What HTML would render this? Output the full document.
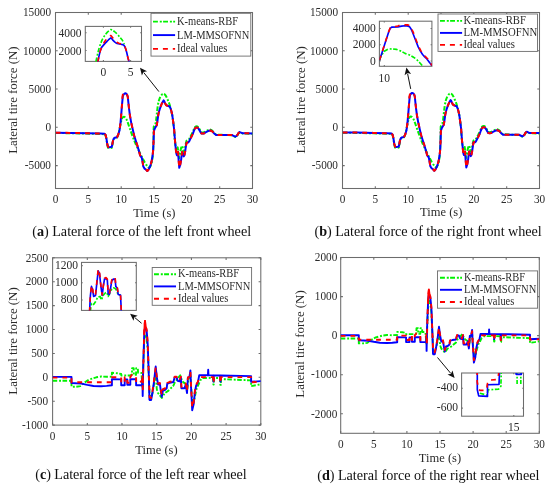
<!DOCTYPE html>
<html lang="en"><head><meta charset="utf-8"><title>Lateral tire force</title>
<style>html,body{margin:0;padding:0;background:#fff}svg{display:block}</style></head>
<body>
<svg width="550" height="488" viewBox="0 0 550 488" font-family="'Liberation Serif','Times New Roman',serif" fill="#2b2b2b">
<rect width="550" height="488" fill="#fff"/>
<rect x="55.5" y="12.5" width="197.00" height="176.00" fill="none" stroke="#6c6c6c" stroke-width="1.05"/>
<path d="M55.5 188.5v-2.2M55.5 12.5v2.2M88.3 188.5v-2.2M88.3 12.5v2.2M121.2 188.5v-2.2M121.2 12.5v2.2M154.0 188.5v-2.2M154.0 12.5v2.2M186.8 188.5v-2.2M186.8 12.5v2.2M219.7 188.5v-2.2M219.7 12.5v2.2M252.5 188.5v-2.2M252.5 12.5v2.2M55.5 12.5h2.2M252.5 12.5h-2.2M55.5 50.8h2.2M252.5 50.8h-2.2M55.5 89.0h2.2M252.5 89.0h-2.2M55.5 127.3h2.2M252.5 127.3h-2.2M55.5 165.6h2.2M252.5 165.6h-2.2" stroke="#6c6c6c" stroke-width="1.05" fill="none"/>
<text transform="translate(55.5,203.4) scale(0.9,1)" font-size="12.5" text-anchor="middle">0</text>
<text transform="translate(88.3,203.4) scale(0.9,1)" font-size="12.5" text-anchor="middle">5</text>
<text transform="translate(121.2,203.4) scale(0.9,1)" font-size="12.5" text-anchor="middle">10</text>
<text transform="translate(154.0,203.4) scale(0.9,1)" font-size="12.5" text-anchor="middle">15</text>
<text transform="translate(186.8,203.4) scale(0.9,1)" font-size="12.5" text-anchor="middle">20</text>
<text transform="translate(219.7,203.4) scale(0.9,1)" font-size="12.5" text-anchor="middle">25</text>
<text transform="translate(252.5,203.4) scale(0.9,1)" font-size="12.5" text-anchor="middle">30</text>
<text transform="translate(51.0,16.3) scale(0.9,1)" font-size="12.5" text-anchor="end">15000</text>
<text transform="translate(51.0,54.5) scale(0.9,1)" font-size="12.5" text-anchor="end">10000</text>
<text transform="translate(51.0,92.8) scale(0.9,1)" font-size="12.5" text-anchor="end">5000</text>
<text transform="translate(51.0,131.1) scale(0.9,1)" font-size="12.5" text-anchor="end">0</text>
<text transform="translate(51.0,169.3) scale(0.9,1)" font-size="12.5" text-anchor="end">-5000</text>
<clipPath id="clipa"><rect x="55.5" y="12.5" width="197.0" height="176.0"/></clipPath>
<polyline points="55.7,133.0 70.0,133.2 86.5,133.6 100.0,134.0 104.5,134.2 105.6,135.4 106.4,138.8 107.2,144.2 108.0,147.8 109.5,148.4 111.8,147.8 112.4,144.8 113.0,141.2 113.8,139.0 114.7,138.2 117.0,137.6 118.2,134.8 119.2,130.5 120.5,124.3 121.5,119.8 122.6,117.4 123.7,116.8 125.0,117.3 126.5,119.4 128.0,123.1 129.3,127.0 131.5,133.3 133.8,139.5 136.0,144.8 138.3,149.6 140.5,154.2 142.8,158.6 144.5,161.8 146.2,164.6 147.5,166.6 148.7,167.6 149.8,167.2 150.9,165.4 152.0,161.3 152.9,154.8 153.4,144.8 153.7,127.0 154.7,124.8 155.8,122.8 156.8,113.8 157.8,105.5 158.5,101.8 159.3,99.3 160.3,96.8 161.4,95.2 162.4,94.1 163.4,93.7 164.5,94.2 165.5,95.2 166.5,97.0 167.5,99.3 168.6,101.8 169.6,104.5 170.4,107.3 171.4,111.3 172.2,114.8 173.2,121.8 174.2,130.0 174.6,137.8 175.5,145.8 176.3,149.8 177.0,148.8 177.7,147.3 178.4,152.8 179.1,158.3 179.9,155.3 180.7,149.8 181.5,146.3 182.2,145.8 183.0,148.8 183.7,151.8 184.4,150.8 185.1,147.8 185.8,143.8 186.5,140.8 187.4,140.2 188.3,140.2 189.2,139.0 190.0,137.4 191.4,134.8 192.8,131.8 193.9,129.2 195.0,127.0 196.1,126.3 197.3,126.4 198.2,127.0 199.0,128.2 200.2,130.4 201.4,132.2 202.7,132.6 204.0,132.3 205.5,131.4 207.0,130.6 208.7,129.8 210.4,129.6 211.7,130.2 213.0,131.4 214.5,133.2 216.0,134.6 221.6,134.8 226.0,135.0 231.8,135.2 233.5,136.0 235.2,137.0 236.3,136.4 237.4,135.2 238.5,133.4 239.7,132.3 241.0,132.8 242.4,133.4 246.0,133.6 252.5,133.8" fill="none" stroke="#00f200" stroke-width="2.0" stroke-linejoin="round" stroke-dasharray="4.6 1.9 1.9 1.5" clip-path="url(#clipa)"/>
<polyline points="55.7,132.8 70.0,132.9 86.5,133.2 100.0,133.6 104.5,133.8 105.6,135.0 106.4,138.4 107.2,143.8 108.0,146.8 109.5,147.4 111.8,146.8 112.4,143.8 113.0,140.6 113.8,138.6 114.7,137.8 117.0,137.2 118.2,134.8 119.5,130.5 120.5,122.8 121.3,113.6 122.0,104.8 122.7,97.3 123.1,95.4 123.8,94.2 125.1,93.2 126.6,94.0 127.3,95.2 127.8,96.8 128.4,102.8 129.1,109.1 130.0,115.8 131.2,122.6 132.8,129.8 134.3,136.1 135.8,140.8 137.2,145.1 138.6,149.8 140.1,155.3 141.0,156.8 141.7,157.5 142.4,160.8 143.3,166.5 144.6,168.6 146.2,169.8 147.3,171.0 148.4,169.8 149.6,167.6 150.8,164.3 151.8,160.3 152.6,155.8 153.2,149.8 153.6,140.8 153.9,131.1 154.8,128.4 156.8,125.0 157.6,119.8 158.3,114.7 159.1,111.3 159.9,108.6 160.9,105.8 161.9,103.4 162.8,101.8 163.6,100.4 164.3,101.4 165.0,103.0 166.0,105.0 167.5,105.8 169.6,106.5 170.5,108.3 171.4,111.3 172.2,114.7 173.2,121.8 174.2,130.0 174.6,135.8 175.2,142.8 176.1,151.8 176.6,154.4 177.0,155.3 177.5,153.8 178.0,151.8 178.6,159.8 179.3,167.8 180.1,165.3 181.0,160.8 181.6,155.8 182.2,151.8 183.0,154.4 183.8,156.4 184.5,154.8 185.1,151.8 185.8,146.8 186.5,142.8 187.4,142.4 188.3,142.5 189.2,141.2 190.0,139.5 191.4,136.8 192.8,133.8 193.9,130.8 195.0,128.3 196.1,127.6 197.3,127.6 198.2,128.2 199.0,129.4 200.2,131.6 201.4,133.4 202.7,133.6 204.0,133.4 205.5,132.4 207.0,131.6 208.7,130.8 210.4,130.5 211.7,131.0 213.0,132.1 214.5,133.8 216.0,135.0 221.6,135.0 226.0,135.0 231.8,135.0 233.5,135.8 235.2,136.6 236.3,136.1 237.4,135.0 238.5,133.1 239.7,132.1 241.0,132.6 242.4,133.2 246.0,133.3 252.5,133.4" fill="none" stroke="#0000ff" stroke-width="2.0" stroke-linejoin="round" clip-path="url(#clipa)"/>
<polyline points="55.7,132.8 70.0,132.9 86.5,133.2 100.0,133.6 104.5,133.8 105.6,135.0 106.4,138.4 107.2,143.8 108.0,146.8 109.5,147.4 111.8,146.8 112.4,143.8 113.0,140.6 113.8,138.6 114.7,137.8 117.0,137.2 118.2,134.8 119.5,130.5 120.5,122.8 121.3,113.6 122.0,104.8 122.5,96.7 122.8,94.8 123.5,93.6 124.8,92.6 126.3,93.4 127.0,94.6 127.8,96.8 128.4,102.8 129.1,109.1 130.0,115.8 131.2,122.6 132.8,129.8 134.3,136.1 135.8,140.8 137.2,145.1 138.6,149.8 140.1,155.3 141.0,156.8 141.7,157.5 142.4,160.8 143.3,166.5 144.6,168.6 146.2,169.8 147.3,171.0 148.4,169.8 149.6,167.6 150.8,164.3 151.8,160.3 152.6,155.8 153.2,149.8 153.6,140.8 153.9,131.1 154.8,128.4 156.8,125.0 157.6,119.8 158.3,114.7 159.1,111.3 159.9,108.6 160.9,105.8 161.9,103.4 162.8,101.8 163.6,100.4 164.3,101.4 165.0,103.0 166.0,105.0 167.5,105.8 169.6,106.5 170.5,108.3 171.4,111.3 172.2,114.7 173.2,121.8 174.2,130.0 174.6,135.8 175.2,142.8 176.1,151.8 176.6,154.4 177.0,155.3 177.5,153.8 178.0,151.8 178.6,159.8 179.3,167.8 180.1,165.3 181.0,160.8 181.6,155.8 182.2,151.8 183.0,154.4 183.8,156.4 184.5,154.8 185.1,151.8 185.8,146.8 186.5,142.8 187.4,142.4 188.3,142.5 189.2,141.2 190.0,139.5 191.4,136.8 192.8,133.8 193.9,130.8 195.0,128.3 196.1,127.6 197.3,127.6 198.2,128.2 199.0,129.4 200.2,131.6 201.4,133.4 202.7,133.6 204.0,133.4 205.5,132.4 207.0,131.6 208.7,130.8 210.4,130.5 211.7,131.0 213.0,132.1 214.5,133.8 216.0,135.0 221.6,135.0 226.0,135.0 231.8,135.0 233.5,135.8 235.2,136.6 236.3,136.1 237.4,135.0 238.5,133.1 239.7,132.1 241.0,132.6 242.4,133.2 246.0,133.3 252.5,133.4" fill="none" stroke="#ff0000" stroke-width="2.0" stroke-linejoin="round" stroke-dasharray="4.8 5" clip-path="url(#clipa)"/>
<rect x="151.0" y="13.3" width="99.8" height="42.8" fill="#fff" stroke="#6c6c6c" stroke-width="0.9"/>
<polyline points="153.0,21.6 175.1,21.6" fill="none" stroke="#00f200" stroke-width="1.9" stroke-linejoin="round" stroke-dasharray="4.9 1.9 2 1.3"/>
<text transform="translate(177.0,25.1) scale(0.905,1)" font-size="11.6">K-means-RBF</text>
<polyline points="153.0,35.1 175.1,35.1" fill="none" stroke="#0000ff" stroke-width="1.9" stroke-linejoin="round"/>
<text transform="translate(177.0,38.6) scale(0.905,1)" font-size="11.6">LM-MMSOFNN</text>
<polyline points="153.0,48.9 175.1,48.9" fill="none" stroke="#ff0000" stroke-width="1.9" stroke-linejoin="round" stroke-dasharray="5 4.9"/>
<text transform="translate(177.0,52.4) scale(0.905,1)" font-size="11.6">Ideal values</text>
<text transform="translate(17.3,100.2) rotate(-90)" font-size="12.85" text-anchor="middle">Lateral tire force (N)</text>
<text x="154.3" y="217.2" font-size="12.5" text-anchor="middle">Time (s)</text>
<text x="32.3" y="235.8" font-size="14.2" fill="#111" textLength="218.8" lengthAdjust="spacing">(<tspan font-weight="bold">a</tspan>) Lateral force of the left front wheel</text>
<rect x="85.3" y="26.4" width="56.2" height="35.0" fill="#fff"/>
<rect x="85.3" y="26.4" width="56.20" height="35.00" fill="none" stroke="#6c6c6c" stroke-width="1.05"/>
<path d="M103.4 61.4v-1.3M103.4 26.4v1.3M130.6 61.4v-1.3M130.6 26.4v1.3M85.3 32.7h1.3M141.5 32.7h-1.3M85.3 50.5h1.3M141.5 50.5h-1.3" stroke="#6c6c6c" stroke-width="1.05" fill="none"/>
<text transform="translate(103.4,75.6) scale(0.96,1)" font-size="12.0" text-anchor="middle">0</text>
<text transform="translate(130.6,75.6) scale(0.96,1)" font-size="12.0" text-anchor="middle">5</text>
<text transform="translate(81.6,36.7) scale(0.96,1)" font-size="12.0" text-anchor="end">4000</text>
<text transform="translate(81.6,54.5) scale(0.96,1)" font-size="12.0" text-anchor="end">2000</text>
<clipPath id="clipia"><rect x="85.3" y="26.4" width="56.2" height="35.0"/></clipPath>
<polyline points="95.9,62.0 96.8,57.5 97.8,53.1 99.1,48.3 100.4,44.2 101.9,40.4 103.5,37.2 105.5,34.4 107.4,32.1 109.3,30.6 110.9,29.5 112.6,30.2 114.4,31.5 116.3,33.2 118.2,35.3 120.1,37.4 122.0,39.7 123.3,41.9 124.2,44.2" fill="none" stroke="#00f200" stroke-width="1.65" stroke-linejoin="round" stroke-dasharray="4.6 1.9 1.9 1.5" clip-path="url(#clipia)"/>
<polyline points="97.8,62.0 98.8,56.9 99.7,53.1 100.6,49.9 101.6,47.4 103.5,45.1 105.5,42.9 107.1,41.3 108.6,39.7 109.9,38.6 110.9,37.8 111.9,38.8 113.1,40.4 114.6,41.9 116.3,43.2 118.2,43.8 120.7,44.2 122.6,44.6 123.9,45.2 124.9,46.7 125.8,49.3 126.8,52.8 127.7,56.9 128.5,59.7 129.1,62.0" fill="none" stroke="#0000ff" stroke-width="1.65" stroke-linejoin="round" clip-path="url(#clipia)"/>
<polyline points="97.8,62.0 99.1,55.6 100.4,50.5 102.3,45.8 104.2,42.3 105.8,40.1 107.4,38.5 109.3,36.7 110.9,35.5 112.3,37.2 113.7,39.1 115.4,41.0 116.9,42.3 118.8,43.3 120.7,43.9 122.6,44.3 123.9,44.8 125.1,47.0 126.1,49.9 127.1,54.1 128.1,58.2 128.6,60.1 129.1,62.0" fill="none" stroke="#ff0000" stroke-width="1.65" stroke-linejoin="round" stroke-dasharray="4.8 5" clip-path="url(#clipia)"/>
<line x1="158.9" y1="91.6" x2="143.8" y2="72.6" stroke="#111" stroke-width="1.0"/>
<polygon points="140.0,67.7 147.1,71.3 143.5,72.1 141.9,75.4" fill="#111"/>
<rect x="342.5" y="12.5" width="197.00" height="176.00" fill="none" stroke="#6c6c6c" stroke-width="1.05"/>
<path d="M342.5 188.5v-2.2M342.5 12.5v2.2M375.3 188.5v-2.2M375.3 12.5v2.2M408.2 188.5v-2.2M408.2 12.5v2.2M441.0 188.5v-2.2M441.0 12.5v2.2M473.8 188.5v-2.2M473.8 12.5v2.2M506.7 188.5v-2.2M506.7 12.5v2.2M539.5 188.5v-2.2M539.5 12.5v2.2M342.5 12.5h2.2M539.5 12.5h-2.2M342.5 50.8h2.2M539.5 50.8h-2.2M342.5 89.0h2.2M539.5 89.0h-2.2M342.5 127.3h2.2M539.5 127.3h-2.2M342.5 165.6h2.2M539.5 165.6h-2.2" stroke="#6c6c6c" stroke-width="1.05" fill="none"/>
<text transform="translate(342.5,203.4) scale(0.9,1)" font-size="12.5" text-anchor="middle">0</text>
<text transform="translate(375.3,203.4) scale(0.9,1)" font-size="12.5" text-anchor="middle">5</text>
<text transform="translate(408.2,203.4) scale(0.9,1)" font-size="12.5" text-anchor="middle">10</text>
<text transform="translate(441.0,203.4) scale(0.9,1)" font-size="12.5" text-anchor="middle">15</text>
<text transform="translate(473.8,203.4) scale(0.9,1)" font-size="12.5" text-anchor="middle">20</text>
<text transform="translate(506.7,203.4) scale(0.9,1)" font-size="12.5" text-anchor="middle">25</text>
<text transform="translate(539.5,203.4) scale(0.9,1)" font-size="12.5" text-anchor="middle">30</text>
<text transform="translate(338.0,16.3) scale(0.9,1)" font-size="12.5" text-anchor="end">15000</text>
<text transform="translate(338.0,54.5) scale(0.9,1)" font-size="12.5" text-anchor="end">10000</text>
<text transform="translate(338.0,92.8) scale(0.9,1)" font-size="12.5" text-anchor="end">5000</text>
<text transform="translate(338.0,131.1) scale(0.9,1)" font-size="12.5" text-anchor="end">0</text>
<text transform="translate(338.0,169.3) scale(0.9,1)" font-size="12.5" text-anchor="end">-5000</text>
<clipPath id="clipb"><rect x="342.5" y="12.5" width="197.0" height="176.0"/></clipPath>
<polyline points="342.7,132.7 357.0,132.9 373.5,133.3 387.0,133.7 391.5,133.9 392.6,135.1 393.4,138.5 394.2,143.9 395.0,147.5 396.5,148.1 398.8,147.5 399.4,144.5 400.0,140.9 400.8,138.7 401.7,137.9 404.0,137.3 405.2,134.5 406.2,130.2 407.5,124.0 408.5,119.5 409.6,117.1 410.7,116.5 412.0,117.0 413.5,119.1 415.0,122.8 416.3,126.7 418.5,133.0 420.8,139.2 423.0,144.5 425.3,149.3 427.5,153.9 429.8,158.3 431.5,161.5 433.2,164.3 434.5,166.3 435.7,167.3 436.8,166.9 437.9,165.1 439.0,161.0 439.9,154.5 440.4,144.5 440.7,126.7 441.7,124.5 442.8,122.5 443.8,113.5 444.8,105.2 445.5,101.5 446.3,99.0 447.3,96.5 448.4,94.9 449.4,93.8 450.4,93.4 451.5,93.9 452.5,94.9 453.5,96.7 454.5,99.0 455.6,101.5 456.6,104.2 457.4,107.0 458.4,111.0 459.2,114.5 460.2,121.5 461.2,129.7 461.6,137.5 462.5,145.5 463.3,149.5 464.0,148.5 464.7,147.0 465.4,152.5 466.1,158.0 466.9,155.0 467.7,149.5 468.5,146.0 469.2,145.5 470.0,148.5 470.7,151.5 471.4,150.5 472.1,147.5 472.8,143.5 473.5,140.5 474.4,139.9 475.3,139.9 476.2,138.7 477.0,137.1 478.4,134.5 479.8,131.5 480.9,128.9 482.0,126.7 483.1,126.0 484.3,126.1 485.2,126.7 486.0,127.9 487.2,130.1 488.4,131.9 489.7,132.3 491.0,132.0 492.5,131.1 494.0,130.3 495.7,129.5 497.4,129.3 498.7,129.9 500.0,131.1 501.5,132.9 503.0,134.3 508.6,134.5 513.0,134.7 518.8,134.9 520.5,135.7 522.2,136.7 523.3,136.1 524.4,134.9 525.5,133.1 526.7,132.0 528.0,132.5 529.4,133.1 533.0,133.3 539.5,133.5" fill="none" stroke="#00f200" stroke-width="2.0" stroke-linejoin="round" stroke-dasharray="4.6 1.9 1.9 1.5" clip-path="url(#clipb)"/>
<polyline points="342.7,132.5 357.0,132.6 373.5,132.9 387.0,133.3 391.5,133.5 392.6,134.7 393.4,138.1 394.2,143.5 395.0,146.5 396.5,147.1 398.8,146.5 399.4,143.5 400.0,140.3 400.8,138.3 401.7,137.5 404.0,136.9 405.2,134.5 406.5,130.2 407.5,122.5 408.3,113.3 409.0,104.5 409.7,97.0 410.1,95.1 410.8,93.9 412.1,92.9 413.6,93.7 414.3,94.9 414.8,96.5 415.4,102.5 416.1,108.8 417.0,115.5 418.2,122.3 419.8,129.5 421.3,135.8 422.8,140.5 424.2,144.8 425.6,149.5 427.1,155.0 428.0,156.5 428.7,157.2 429.4,160.5 430.3,166.2 431.6,168.3 433.2,169.5 434.3,170.7 435.4,169.5 436.6,167.3 437.8,164.0 438.8,160.0 439.6,155.5 440.2,149.5 440.6,140.5 440.9,130.8 441.8,128.1 443.8,124.7 444.6,119.5 445.3,114.4 446.1,111.0 446.9,108.3 447.9,105.5 448.9,103.1 449.8,101.5 450.6,100.1 451.3,101.1 452.0,102.7 453.0,104.7 454.5,105.5 456.6,106.2 457.5,108.0 458.4,111.0 459.2,114.4 460.2,121.5 461.2,129.7 461.6,135.5 462.2,142.5 463.1,151.5 463.6,154.1 464.0,155.0 464.5,153.5 465.0,151.5 465.6,159.5 466.3,167.5 467.1,165.0 468.0,160.5 468.6,155.5 469.2,151.5 470.0,154.1 470.8,156.1 471.5,154.5 472.1,151.5 472.8,146.5 473.5,142.5 474.4,142.1 475.3,142.2 476.2,140.9 477.0,139.2 478.4,136.5 479.8,133.5 480.9,130.5 482.0,128.0 483.1,127.3 484.3,127.3 485.2,127.9 486.0,129.1 487.2,131.3 488.4,133.1 489.7,133.3 491.0,133.1 492.5,132.1 494.0,131.3 495.7,130.5 497.4,130.2 498.7,130.7 500.0,131.8 501.5,133.5 503.0,134.7 508.6,134.7 513.0,134.7 518.8,134.7 520.5,135.5 522.2,136.3 523.3,135.8 524.4,134.7 525.5,132.8 526.7,131.8 528.0,132.3 529.4,132.9 533.0,133.0 539.5,133.1" fill="none" stroke="#0000ff" stroke-width="2.0" stroke-linejoin="round" clip-path="url(#clipb)"/>
<polyline points="342.7,132.5 357.0,132.6 373.5,132.9 387.0,133.3 391.5,133.5 392.6,134.7 393.4,138.1 394.2,143.5 395.0,146.5 396.5,147.1 398.8,146.5 399.4,143.5 400.0,140.3 400.8,138.3 401.7,137.5 404.0,136.9 405.2,134.5 406.5,130.2 407.5,122.5 408.3,113.3 409.0,104.5 409.4,96.4 409.9,94.5 410.6,93.3 411.9,92.3 413.4,93.1 414.1,94.3 414.8,96.5 415.4,102.5 416.1,108.8 417.0,115.5 418.2,122.3 419.8,129.5 421.3,135.8 422.8,140.5 424.2,144.8 425.6,149.5 427.1,155.0 428.0,156.5 428.7,157.2 429.4,160.5 430.3,166.2 431.6,168.3 433.2,169.5 434.3,170.7 435.4,169.5 436.6,167.3 437.8,164.0 438.8,160.0 439.6,155.5 440.2,149.5 440.6,140.5 440.9,130.8 441.8,128.1 443.8,124.7 444.6,119.5 445.3,114.4 446.1,111.0 446.9,108.3 447.9,105.5 448.9,103.1 449.8,101.5 450.6,100.1 451.3,101.1 452.0,102.7 453.0,104.7 454.5,105.5 456.6,106.2 457.5,108.0 458.4,111.0 459.2,114.4 460.2,121.5 461.2,129.7 461.6,135.5 462.2,142.5 463.1,151.5 463.6,154.1 464.0,155.0 464.5,153.5 465.0,151.5 465.6,159.5 466.3,167.5 467.1,165.0 468.0,160.5 468.6,155.5 469.2,151.5 470.0,154.1 470.8,156.1 471.5,154.5 472.1,151.5 472.8,146.5 473.5,142.5 474.4,142.1 475.3,142.2 476.2,140.9 477.0,139.2 478.4,136.5 479.8,133.5 480.9,130.5 482.0,128.0 483.1,127.3 484.3,127.3 485.2,127.9 486.0,129.1 487.2,131.3 488.4,133.1 489.7,133.3 491.0,133.1 492.5,132.1 494.0,131.3 495.7,130.5 497.4,130.2 498.7,130.7 500.0,131.8 501.5,133.5 503.0,134.7 508.6,134.7 513.0,134.7 518.8,134.7 520.5,135.5 522.2,136.3 523.3,135.8 524.4,134.7 525.5,132.8 526.7,131.8 528.0,132.3 529.4,132.9 533.0,133.0 539.5,133.1" fill="none" stroke="#ff0000" stroke-width="2.0" stroke-linejoin="round" stroke-dasharray="4.8 5" clip-path="url(#clipb)"/>
<rect x="438.0" y="14.0" width="99.5" height="37.4" fill="#fff" stroke="#6c6c6c" stroke-width="0.9"/>
<polyline points="440.0,20.9 462.1,20.9" fill="none" stroke="#00f200" stroke-width="1.9" stroke-linejoin="round" stroke-dasharray="4.9 1.9 2 1.3"/>
<text transform="translate(463.4,24.4) scale(0.925,1)" font-size="11.6">K-means-RBF</text>
<polyline points="440.0,32.9 462.1,32.9" fill="none" stroke="#0000ff" stroke-width="1.9" stroke-linejoin="round"/>
<text transform="translate(463.4,36.4) scale(0.925,1)" font-size="11.6">LM-MMSOFNN</text>
<polyline points="440.0,44.9 462.1,44.9" fill="none" stroke="#ff0000" stroke-width="1.9" stroke-linejoin="round" stroke-dasharray="5 4.9"/>
<text transform="translate(463.4,48.4) scale(0.925,1)" font-size="11.6">Ideal values</text>
<text transform="translate(304.6,99.8) rotate(-90)" font-size="12.85" text-anchor="middle">Lateral tire force (N)</text>
<text x="441.2" y="215.5" font-size="12.5" text-anchor="middle">Time (s)</text>
<text x="314.5" y="235.8" font-size="14.2" fill="#111" textLength="227.3" lengthAdjust="spacing">(<tspan font-weight="bold">b</tspan>) Lateral force of the right front wheel</text>
<rect x="379.4" y="21.2" width="52.5" height="45.099999999999994" fill="#fff"/>
<rect x="379.4" y="21.2" width="52.50" height="45.10" fill="none" stroke="#6c6c6c" stroke-width="1.05"/>
<path d="M384.3 66.3v-1.3M384.3 21.2v1.3M379.4 28.4h1.3M431.9 28.4h-1.3M379.4 44.7h1.3M431.9 44.7h-1.3M379.4 61.0h1.3M431.9 61.0h-1.3" stroke="#6c6c6c" stroke-width="1.05" fill="none"/>
<text transform="translate(384.3,81.5) scale(0.96,1)" font-size="12.0" text-anchor="middle">10</text>
<text transform="translate(375.7,32.0) scale(0.96,1)" font-size="12.0" text-anchor="end">4000</text>
<text transform="translate(375.7,48.3) scale(0.96,1)" font-size="12.0" text-anchor="end">2000</text>
<text transform="translate(375.7,64.6) scale(0.96,1)" font-size="12.0" text-anchor="end">0</text>
<clipPath id="clipib"><rect x="379.4" y="21.2" width="52.5" height="45.099999999999994"/></clipPath>
<polyline points="379.4,60.4 381.2,55.6 384.3,51.3 388.0,49.2 391.7,48.8 396.6,49.4 401.6,51.3 405.0,53.4 409.5,55.0 412.7,56.7 416.0,58.9 419.3,62.2 422.6,65.9 423.6,67.6" fill="none" stroke="#00f200" stroke-width="1.65" stroke-linejoin="round" stroke-dasharray="4.6 1.9 1.9 1.5" clip-path="url(#clipib)"/>
<polyline points="379.4,60.4 381.9,53.0 385.6,41.5 388.6,32.2 390.2,28.3 391.7,27.1 397.9,26.9 401.6,26.1 405.0,25.8 407.3,25.9 409.5,26.6 411.2,29.2 412.7,32.7 415.4,39.7 418.2,46.9 420.4,51.1 422.6,54.5 424.7,56.9 426.9,58.9 429.5,62.4 431.9,65.9" fill="none" stroke="#0000ff" stroke-width="1.65" stroke-linejoin="round" clip-path="url(#clipib)"/>
<polyline points="379.4,60.2 381.9,52.8 385.6,41.2 388.6,31.9 390.2,27.9 391.7,26.7 395.3,26.5 397.9,26.0 399.6,25.3 401.6,25.4 405.0,24.8 407.3,24.8 409.5,25.5 411.6,28.8 413.4,32.7 416.0,39.7 418.6,46.5 420.8,50.6 423.0,53.9 425.2,56.3 427.4,58.5 430.0,62.0 431.9,65.5" fill="none" stroke="#ff0000" stroke-width="1.65" stroke-linejoin="round" stroke-dasharray="4.8 5" clip-path="url(#clipib)"/>
<line x1="410.7" y1="88.9" x2="407.6" y2="73.7" stroke="#111" stroke-width="1.0"/>
<polygon points="406.4,67.6 411.1,74.0 407.5,73.1 404.6,75.3" fill="#111"/>
<rect x="52.6" y="257.8" width="208.20" height="167.30" fill="none" stroke="#6c6c6c" stroke-width="1.05"/>
<path d="M52.6 425.1v-2.2M52.6 257.8v2.2M87.3 425.1v-2.2M87.3 257.8v2.2M122.0 425.1v-2.2M122.0 257.8v2.2M156.7 425.1v-2.2M156.7 257.8v2.2M191.4 425.1v-2.2M191.4 257.8v2.2M226.1 425.1v-2.2M226.1 257.8v2.2M260.8 425.1v-2.2M260.8 257.8v2.2M52.6 257.8h2.2M260.8 257.8h-2.2M52.6 281.7h2.2M260.8 281.7h-2.2M52.6 305.6h2.2M260.8 305.6h-2.2M52.6 329.5h2.2M260.8 329.5h-2.2M52.6 353.4h2.2M260.8 353.4h-2.2M52.6 377.3h2.2M260.8 377.3h-2.2M52.6 401.2h2.2M260.8 401.2h-2.2M52.6 425.1h2.2M260.8 425.1h-2.2" stroke="#6c6c6c" stroke-width="1.05" fill="none"/>
<text transform="translate(52.6,439.7) scale(0.9,1)" font-size="12.5" text-anchor="middle">0</text>
<text transform="translate(87.3,439.7) scale(0.9,1)" font-size="12.5" text-anchor="middle">5</text>
<text transform="translate(122.0,439.7) scale(0.9,1)" font-size="12.5" text-anchor="middle">10</text>
<text transform="translate(156.7,439.7) scale(0.9,1)" font-size="12.5" text-anchor="middle">15</text>
<text transform="translate(191.4,439.7) scale(0.9,1)" font-size="12.5" text-anchor="middle">20</text>
<text transform="translate(226.1,439.7) scale(0.9,1)" font-size="12.5" text-anchor="middle">25</text>
<text transform="translate(260.8,439.7) scale(0.9,1)" font-size="12.5" text-anchor="middle">30</text>
<text transform="translate(48.1,261.6) scale(0.9,1)" font-size="12.5" text-anchor="end">2500</text>
<text transform="translate(48.1,285.4) scale(0.9,1)" font-size="12.5" text-anchor="end">2000</text>
<text transform="translate(48.1,309.4) scale(0.9,1)" font-size="12.5" text-anchor="end">1500</text>
<text transform="translate(48.1,333.2) scale(0.9,1)" font-size="12.5" text-anchor="end">1000</text>
<text transform="translate(48.1,357.2) scale(0.9,1)" font-size="12.5" text-anchor="end">500</text>
<text transform="translate(48.1,381.1) scale(0.9,1)" font-size="12.5" text-anchor="end">0</text>
<text transform="translate(48.1,404.9) scale(0.9,1)" font-size="12.5" text-anchor="end">-500</text>
<text transform="translate(48.1,428.9) scale(0.9,1)" font-size="12.5" text-anchor="end">-1000</text>
<clipPath id="clipc"><rect x="52.6" y="257.8" width="208.20000000000002" height="167.3"/></clipPath>
<polyline points="52.6,380.8 71.5,380.8 71.5,386.8 76.2,386.8 80.4,386.1 83.8,383.0 89.4,379.4 96.3,377.3 101.2,376.5 106.7,376.8 111.9,376.6 111.9,372.8 117.1,373.2 121.2,374.0 121.3,375.5 130.3,375.5 131.9,374.4 132.1,368.3 133.7,368.3 133.9,374.9 136.0,374.9 136.2,368.3 137.8,368.3 138.1,372.9 141.4,372.9 142.5,386.9 143.4,363.0 144.3,339.1 145.1,334.3 146.3,336.2 147.7,348.6 148.9,378.3 149.6,395.5 151.1,396.9 152.5,393.1 153.9,384.5 155.7,371.6 156.8,389.2 158.1,393.1 161.8,398.0 164.8,393.1 168.5,390.6 173.4,385.7 175.3,381.4 177.5,378.7 180.2,375.3 181.7,379.7 183.1,382.1 185.7,383.9 187.2,389.2 188.3,380.2 190.4,374.4 191.1,386.9 192.4,402.2 194.2,399.8 196.7,388.2 199.0,383.5 200.4,380.2 202.5,378.0 213.1,377.9 213.4,384.5 213.7,384.5 214.1,377.9 220.1,378.0 220.4,384.9 220.8,384.9 221.1,379.2 226.1,379.3 251.1,380.4 251.1,386.1 255.9,385.2 260.8,384.2" fill="none" stroke="#00f200" stroke-width="1.9" stroke-linejoin="round" stroke-dasharray="4.6 1.9 1.9 1.5" clip-path="url(#clipc)"/>
<polyline points="52.6,376.9 71.5,376.9 71.5,383.0 81.3,383.6 87.3,384.9 93.5,386.0 101.0,386.3 106.7,385.9 111.9,385.3 111.9,379.1 121.2,379.4 121.2,385.2 124.7,385.2 124.7,379.4 127.3,379.4 127.3,384.7 130.3,384.7 130.3,379.2 136.1,379.2 136.1,385.2 142.1,385.2 142.4,378.3 142.7,396.0 143.3,363.0 144.3,332.4 145.1,326.9 145.9,329.5 146.6,330.2 147.7,343.8 148.9,377.9 149.4,399.5 149.8,400.1 151.1,400.1 152.3,393.8 153.9,382.5 155.7,366.5 156.8,377.1 158.1,384.5 159.9,383.9 160.9,391.6 161.8,396.8 162.9,390.6 164.8,390.0 166.7,388.2 167.2,383.9 169.7,382.7 173.4,382.0 174.7,377.1 176.5,377.1 177.7,380.8 179.6,381.4 180.8,377.1 181.4,388.2 184.5,388.2 185.7,384.5 187.0,393.1 187.9,377.7 189.4,377.1 190.4,370.4 191.0,385.7 192.2,410.3 193.7,404.1 194.9,391.8 196.1,385.7 198.0,382.0 199.2,375.3 207.9,375.3 208.2,369.7 208.5,375.3 213.2,375.4 213.5,381.6 213.7,375.4 220.2,375.5 220.5,381.6 220.8,375.5 251.1,376.1 251.1,381.8 260.8,381.1" fill="none" stroke="#0000ff" stroke-width="1.9" stroke-linejoin="round" clip-path="url(#clipc)"/>
<polyline points="52.6,377.6 71.5,377.6 71.5,382.3 111.9,382.3 111.9,377.3 121.2,377.3 121.2,382.7 124.7,382.7 124.7,377.3 127.3,377.3 127.3,382.7 130.3,382.7 130.3,376.8 132.1,374.7 135.2,375.4 136.1,376.3 136.1,382.7 140.0,382.7 142.1,380.2 142.5,374.4 142.8,389.2 143.5,358.2 144.3,329.5 145.0,320.9 145.7,327.1 146.6,329.0 147.7,342.9 148.9,377.3 149.6,397.4 151.1,397.9 152.3,392.1 153.9,381.6 155.7,367.7 156.8,376.8 158.1,383.5 159.9,383.0 160.9,390.2 161.8,395.0 162.9,389.2 164.8,388.5 166.7,386.9 167.2,383.0 169.7,381.8 173.4,381.1 174.7,376.6 176.5,376.6 177.7,379.9 179.6,380.6 180.8,376.6 181.4,386.9 184.5,386.9 185.7,383.5 187.0,391.2 187.9,377.3 189.4,376.8 190.4,371.8 191.0,384.9 192.2,407.4 193.7,402.2 194.9,390.7 196.1,384.9 198.0,381.4 199.2,377.1 213.1,377.1 213.4,383.0 213.7,383.0 214.0,377.1 220.1,377.1 220.4,383.0 220.7,383.0 221.0,377.1 251.1,377.1 251.1,382.3 260.8,381.8" fill="none" stroke="#ff0000" stroke-width="1.9" stroke-linejoin="round" stroke-dasharray="4.8 5" clip-path="url(#clipc)"/>
<polyline points="144.2,335.2 144.6,325.7 145.0,320.9 145.5,324.7 145.8,327.6" fill="none" stroke="#ff0000" stroke-width="1.9" stroke-linejoin="round" clip-path="url(#clipc)"/>
<rect x="152.2" y="267.5" width="99.4" height="37.8" fill="#fff" stroke="#6c6c6c" stroke-width="0.9"/>
<polyline points="154.0,274.2 176.0,274.2" fill="none" stroke="#00f200" stroke-width="1.9" stroke-linejoin="round" stroke-dasharray="4.9 1.9 2 1.3"/>
<text transform="translate(178.0,277.3) scale(0.905,1)" font-size="11.6">K-means-RBF</text>
<polyline points="154.0,286.4 176.0,286.4" fill="none" stroke="#0000ff" stroke-width="1.9" stroke-linejoin="round"/>
<text transform="translate(178.0,289.5) scale(0.905,1)" font-size="11.6">LM-MMSOFNN</text>
<polyline points="154.0,298.7 176.0,298.7" fill="none" stroke="#ff0000" stroke-width="1.9" stroke-linejoin="round" stroke-dasharray="5 4.9"/>
<text transform="translate(178.0,301.8) scale(0.905,1)" font-size="11.6">Ideal values</text>
<text transform="translate(17.2,341) rotate(-90)" font-size="12.85" text-anchor="middle">Lateral tire force (N)</text>
<text x="156.5" y="453.8" font-size="12.5" text-anchor="middle">Time (s)</text>
<text x="35.3" y="479.4" font-size="14.2" fill="#111" textLength="211.3" lengthAdjust="spacing">(<tspan font-weight="bold">c</tspan>) Lateral force of the left rear wheel</text>
<rect x="81.5" y="262.4" width="54.80000000000001" height="48.0" fill="#fff"/>
<rect x="81.5" y="262.4" width="54.80" height="48.00" fill="none" stroke="#6c6c6c" stroke-width="1.05"/>
<path d="M81.5 265.6h1.2M136.3 265.6h-1.2M81.5 282.7h1.2M136.3 282.7h-1.2M81.5 300.0h1.2M136.3 300.0h-1.2" stroke="#6c6c6c" stroke-width="1.05" fill="none"/>
<text transform="translate(77.9,268.8) scale(0.96,1)" font-size="12.0" text-anchor="end">1200</text>
<text transform="translate(77.9,285.9) scale(0.96,1)" font-size="12.0" text-anchor="end">1000</text>
<text transform="translate(77.9,303.2) scale(0.96,1)" font-size="12.0" text-anchor="end">800</text>
<clipPath id="clipic"><rect x="81.5" y="262.4" width="54.80000000000001" height="48.0"/></clipPath>
<polyline points="90.4,311.8 90.9,306.4 91.5,303.6 92.5,304.4 93.6,304.5 95.5,301.8 97.6,297.3 100.0,296.4 101.5,300.0 103.1,295.5 105.5,292.7 106.7,292.2 108.2,296.4 110.0,292.7 111.8,289.1 114.0,287.8 115.8,289.1 117.3,292.7 118.2,294.5 120.5,295.1" fill="none" stroke="#00f200" stroke-width="1.65" stroke-linejoin="round" stroke-dasharray="4.6 1.9 1.9 1.5" clip-path="url(#clipic)"/>
<polyline points="89.6,311.8 90.0,302.7 90.4,295.5 91.5,286.4 92.7,290.0 93.6,296.4 95.5,295.5 96.9,282.7 98.2,270.9 99.5,273.6 100.9,286.4 102.2,295.5 103.3,286.4 104.5,279.1 106.0,278.7 107.3,280.0 108.2,293.6 109.3,294.5 110.4,289.1 111.8,280.9 113.3,279.1 115.1,279.1 115.8,286.4 117.3,288.2 118.2,294.5 120.5,295.1 120.9,302.7 121.3,311.8" fill="none" stroke="#0000ff" stroke-width="1.65" stroke-linejoin="round" clip-path="url(#clipic)"/>
<polyline points="89.6,311.8 90.0,302.4 90.4,294.5 91.5,285.5 92.7,289.3 93.6,295.8 95.5,294.7 96.9,281.3 98.2,269.1 99.5,272.2 100.9,285.6 102.2,294.9 103.3,285.6 104.5,278.2 106.0,277.6 107.3,279.1 108.2,293.1 109.3,294.0 110.4,288.2 111.8,279.6 113.3,277.3 115.1,277.3 115.8,285.6 117.3,287.6 118.2,294.2 120.5,294.7 120.9,302.7 121.3,311.8" fill="none" stroke="#ff0000" stroke-width="1.65" stroke-linejoin="round" stroke-dasharray="4.8 5" clip-path="url(#clipic)"/>
<line x1="141.6" y1="323.3" x2="134.9" y2="317.7" stroke="#111" stroke-width="1.0"/>
<polygon points="130.1,313.7 137.7,315.8 134.4,317.3 133.5,320.8" fill="#111"/>
<rect x="340.7" y="257.5" width="198.60" height="175.80" fill="none" stroke="#6c6c6c" stroke-width="1.05"/>
<path d="M340.7 433.3v-2.2M340.7 257.5v2.2M373.8 433.3v-2.2M373.8 257.5v2.2M406.9 433.3v-2.2M406.9 257.5v2.2M440.0 433.3v-2.2M440.0 257.5v2.2M473.1 433.3v-2.2M473.1 257.5v2.2M506.2 433.3v-2.2M506.2 257.5v2.2M539.3 433.3v-2.2M539.3 257.5v2.2M340.7 257.5h2.2M539.3 257.5h-2.2M340.7 296.6h2.2M539.3 296.6h-2.2M340.7 335.6h2.2M539.3 335.6h-2.2M340.7 374.7h2.2M539.3 374.7h-2.2M340.7 413.8h2.2M539.3 413.8h-2.2" stroke="#6c6c6c" stroke-width="1.05" fill="none"/>
<text transform="translate(340.7,448.2) scale(0.9,1)" font-size="12.5" text-anchor="middle">0</text>
<text transform="translate(373.8,448.2) scale(0.9,1)" font-size="12.5" text-anchor="middle">5</text>
<text transform="translate(406.9,448.2) scale(0.9,1)" font-size="12.5" text-anchor="middle">10</text>
<text transform="translate(440.0,448.2) scale(0.9,1)" font-size="12.5" text-anchor="middle">15</text>
<text transform="translate(473.1,448.2) scale(0.9,1)" font-size="12.5" text-anchor="middle">20</text>
<text transform="translate(506.2,448.2) scale(0.9,1)" font-size="12.5" text-anchor="middle">25</text>
<text transform="translate(539.3,448.2) scale(0.9,1)" font-size="12.5" text-anchor="middle">30</text>
<text transform="translate(337.3,261.2) scale(0.9,1)" font-size="12.5" text-anchor="end">2000</text>
<text transform="translate(337.3,300.3) scale(0.9,1)" font-size="12.5" text-anchor="end">1000</text>
<text transform="translate(337.3,339.4) scale(0.9,1)" font-size="12.5" text-anchor="end">0</text>
<text transform="translate(337.3,378.4) scale(0.9,1)" font-size="12.5" text-anchor="end">-1000</text>
<text transform="translate(337.3,417.5) scale(0.9,1)" font-size="12.5" text-anchor="end">-2000</text>
<clipPath id="clipd"><rect x="340.7" y="257.5" width="198.59999999999997" height="175.8"/></clipPath>
<polyline points="340.7,338.5 358.8,338.5 358.8,343.4 363.2,343.4 367.2,342.9 370.5,340.3 375.8,337.4 382.4,335.6 387.0,335.0 392.3,335.2 397.2,335.0 397.2,331.9 402.3,332.3 406.1,332.9 406.2,334.1 414.8,334.1 416.3,333.3 416.5,328.3 418.0,328.3 418.3,333.7 420.3,333.7 420.5,328.3 422.0,328.3 422.3,332.0 425.4,332.0 426.4,343.4 427.3,323.9 428.2,304.4 428.9,300.5 430.1,302.0 431.4,312.2 432.5,336.4 433.2,350.5 434.7,351.7 436.0,348.5 437.4,341.5 439.0,330.9 440.1,345.4 441.3,348.5 444.8,352.5 447.7,348.5 451.3,346.5 456.0,342.5 457.7,339.0 459.9,336.8 462.4,334.0 463.8,337.6 465.2,339.5 467.7,341.0 469.1,345.4 470.1,338.0 472.1,333.3 472.8,343.4 474.1,355.9 475.7,354.0 478.2,344.5 480.4,340.7 481.7,338.0 483.7,336.2 493.8,336.1 494.1,341.5 494.4,341.5 494.7,336.1 500.4,336.2 500.8,341.9 501.1,341.9 501.4,337.2 506.2,337.3 530.0,338.2 530.0,342.8 534.7,342.1 539.3,341.3" fill="none" stroke="#00f200" stroke-width="1.9" stroke-linejoin="round" stroke-dasharray="4.6 1.9 1.9 1.5" clip-path="url(#clipd)"/>
<polyline points="340.7,335.3 358.8,335.3 358.8,340.3 368.1,340.8 373.8,341.8 379.8,342.7 386.8,343.0 392.3,342.7 397.2,342.2 397.2,337.1 406.1,337.4 406.1,342.1 409.5,342.1 409.5,337.4 411.9,337.4 411.9,341.7 414.8,341.7 414.8,337.2 420.3,337.2 420.3,342.1 426.1,342.1 426.4,336.4 426.6,350.9 427.2,323.9 428.2,298.9 428.9,294.4 429.7,296.6 430.3,297.2 431.4,308.3 432.5,336.1 433.0,353.8 433.4,354.3 434.7,354.3 435.8,349.2 437.4,339.9 439.0,326.8 440.1,335.5 441.3,341.5 443.0,341.0 444.0,347.4 444.8,351.5 446.0,346.5 447.7,346.0 449.5,344.5 450.1,341.0 452.4,340.0 456.0,339.5 457.1,335.5 458.9,335.5 460.1,338.5 461.8,339.0 463.0,335.5 463.6,344.5 466.5,344.5 467.7,341.5 468.9,348.5 469.8,336.0 471.2,335.5 472.1,330.0 472.7,342.5 473.9,362.6 475.3,357.5 476.4,347.5 477.6,342.5 479.4,339.5 480.5,334.0 488.9,334.0 489.1,329.5 489.5,334.0 493.9,334.1 494.2,339.1 494.4,334.1 500.6,334.1 500.8,339.1 501.1,334.1 530.0,334.7 530.0,339.3 539.3,338.8" fill="none" stroke="#0000ff" stroke-width="1.9" stroke-linejoin="round" clip-path="url(#clipd)"/>
<polyline points="340.7,335.9 358.8,335.9 358.8,339.7 397.2,339.7 397.2,335.6 406.1,335.6 406.1,340.0 409.5,340.0 409.5,335.6 411.9,335.6 411.9,340.0 414.8,340.0 414.8,335.2 416.5,333.5 419.5,334.1 420.3,334.9 420.3,340.0 424.1,340.0 426.1,338.0 426.4,333.3 426.8,345.4 427.4,320.0 428.2,296.6 428.9,289.5 429.5,294.6 430.3,296.2 431.4,307.5 432.5,335.6 433.2,352.0 434.7,352.4 435.8,347.7 437.4,339.1 439.0,327.8 440.1,335.2 441.3,340.7 443.0,340.3 444.0,346.2 444.8,350.1 446.0,345.4 447.7,344.8 449.5,343.4 450.1,340.3 452.4,339.3 456.0,338.8 457.1,335.0 458.9,335.0 460.1,337.8 461.8,338.4 463.0,335.0 463.6,343.4 466.5,343.4 467.7,340.7 468.9,347.0 469.8,335.6 471.2,335.2 472.1,331.1 472.7,341.9 473.9,360.2 475.3,355.9 476.4,346.6 477.6,341.9 479.4,339.0 480.5,335.4 493.8,335.4 494.1,340.3 494.4,340.3 494.6,335.4 500.5,335.4 500.8,340.3 501.0,340.3 501.3,335.4 530.0,335.4 530.0,339.7 539.3,339.3" fill="none" stroke="#ff0000" stroke-width="1.9" stroke-linejoin="round" stroke-dasharray="4.8 5" clip-path="url(#clipd)"/>
<polyline points="428.1,301.3 428.5,293.4 428.9,289.5 429.3,292.7 429.6,295.0" fill="none" stroke="#ff0000" stroke-width="1.9" stroke-linejoin="round" clip-path="url(#clipd)"/>
<rect x="437.5" y="270.9" width="100.1" height="37.3" fill="#fff" stroke="#6c6c6c" stroke-width="0.9"/>
<polyline points="440.0,277.7 462.0,277.7" fill="none" stroke="#00f200" stroke-width="1.9" stroke-linejoin="round" stroke-dasharray="4.9 1.9 2 1.3"/>
<text transform="translate(464.0,280.8) scale(0.905,1)" font-size="11.6">K-means-RBF</text>
<polyline points="440.0,289.8 462.0,289.8" fill="none" stroke="#0000ff" stroke-width="1.9" stroke-linejoin="round"/>
<text transform="translate(464.0,292.9) scale(0.905,1)" font-size="11.6">LM-MMSOFNN</text>
<polyline points="440.0,302.0 462.0,302.0" fill="none" stroke="#ff0000" stroke-width="1.9" stroke-linejoin="round" stroke-dasharray="5 4.9"/>
<text transform="translate(464.0,305.1) scale(0.905,1)" font-size="11.6">Ideal values</text>
<text transform="translate(304.0,344) rotate(-90)" font-size="12.85" text-anchor="middle">Lateral tire force (N)</text>
<text x="440" y="461.9" font-size="12.5" text-anchor="middle">Time (s)</text>
<text x="317.2" y="479.8" font-size="14.2" fill="#111" textLength="222.2" lengthAdjust="spacing">(<tspan font-weight="bold">d</tspan>) Lateral force of the right rear wheel</text>
<rect x="461.6" y="373.0" width="61.89999999999998" height="43.19999999999999" fill="#fff"/>
<rect x="461.6" y="373.0" width="61.90" height="43.20" fill="none" stroke="#6c6c6c" stroke-width="1.05"/>
<path d="M513.8 416.2v-1.2M513.8 373.0v1.2M461.6 388.2h1.2M523.5 388.2h-1.2M461.6 408.1h1.2M523.5 408.1h-1.2" stroke="#6c6c6c" stroke-width="1.05" fill="none"/>
<text transform="translate(513.8,431.0) scale(0.96,1)" font-size="12.0" text-anchor="middle">15</text>
<text transform="translate(457.9,391.4) scale(0.96,1)" font-size="12.0" text-anchor="end">-400</text>
<text transform="translate(457.9,411.3) scale(0.96,1)" font-size="12.0" text-anchor="end">-600</text>
<clipPath id="clipid"><rect x="461.6" y="373.0" width="61.89999999999998" height="43.19999999999999"/></clipPath>
<polyline points="479.8,393.2 487.1,395.2 488.1,389.8 498.7,389.1 500.9,386.2 501.3,370.2" fill="none" stroke="#00f200" stroke-width="1.65" stroke-linejoin="round" stroke-dasharray="4.6 1.9 1.9 1.5" clip-path="url(#clipid)"/>
<polyline points="517.1,370.2 517.1,384.0" fill="none" stroke="#00f200" stroke-width="1.65" stroke-linejoin="round" stroke-dasharray="4.6 1.9 1.9 1.5" clip-path="url(#clipid)"/>
<polyline points="520.8,370.2 520.8,384.0" fill="none" stroke="#00f200" stroke-width="1.65" stroke-linejoin="round" stroke-dasharray="4.6 1.9 1.9 1.5" clip-path="url(#clipid)"/>
<polyline points="477.3,370.2 477.3,389.8 478.7,395.9 487.5,396.4 487.5,384.7 499.0,384.4 499.6,370.2" fill="none" stroke="#0000ff" stroke-width="1.65" stroke-linejoin="round" clip-path="url(#clipid)"/>
<polyline points="515.7,370.2 516.2,374.4 521.3,374.4 521.6,370.2" fill="none" stroke="#0000ff" stroke-width="1.65" stroke-linejoin="round" clip-path="url(#clipid)"/>
<polyline points="477.1,370.2 477.2,381.8 478.4,388.4 479.8,390.3 484.9,390.3 486.7,389.1 487.5,383.3 489.3,380.1 496.5,379.6 498.0,377.5 499.2,370.2" fill="none" stroke="#ff0000" stroke-width="1.65" stroke-linejoin="round" stroke-dasharray="4.8 5" clip-path="url(#clipid)"/>
<line x1="437.5" y1="357.5" x2="450.6" y2="373.2" stroke="#111" stroke-width="1.0"/>
<polygon points="454.6,378.0 447.5,374.6 451.0,373.7 452.5,370.4" fill="#111"/>
</svg>
</body></html>
